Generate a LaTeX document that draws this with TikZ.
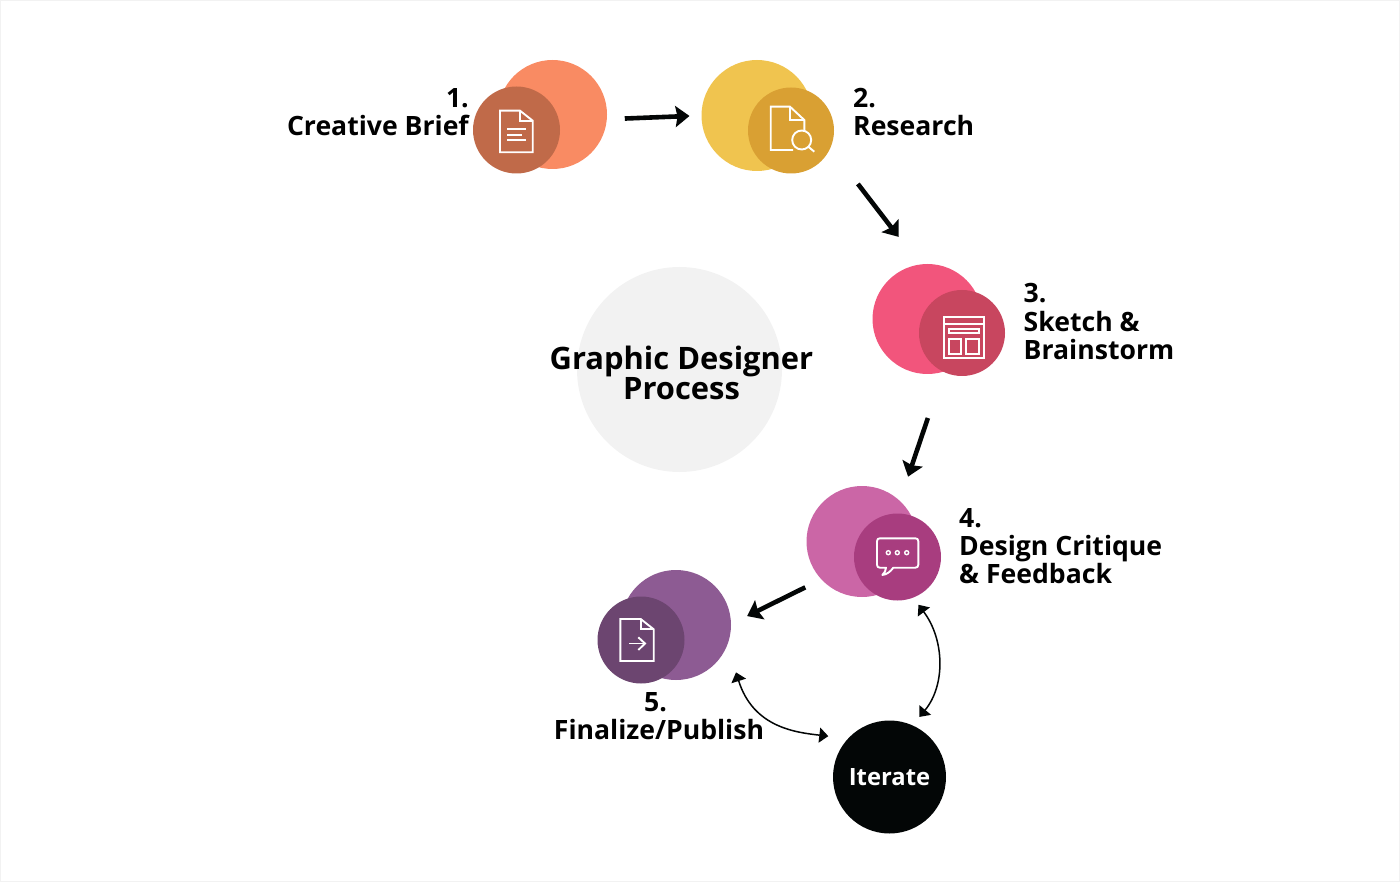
\documentclass[tikz,border=0pt]{standalone}
\usepackage{fontspec}
\setmainfont{Open Sans}
\usetikzlibrary{arrows.meta}
\definecolor{coralA}{HTML}{F98B63}\definecolor{coralB}{HTML}{C06A49}
\definecolor{goldA}{HTML}{F0C44F}\definecolor{goldB}{HTML}{D9A033}
\definecolor{roseA}{HTML}{F2557C}\definecolor{roseB}{HTML}{C8465F}
\definecolor{orchidA}{HTML}{CB66A6}\definecolor{orchidB}{HTML}{A83D7F}
\definecolor{plumA}{HTML}{8D5B93}\definecolor{plumB}{HTML}{6C4570}
\definecolor{inkblack}{HTML}{030606}\definecolor{pale}{HTML}{F2F2F2}
\tikzset{
 bub/.style={circle,inner sep=0pt,outer sep=0pt,minimum size=#1},
 lab/.style={font=\fontsize{26.6}{28}\selectfont\bfseries,inner sep=0pt,text=black},
 heavy/.style={draw=inkblack,line width=4.6pt,-{Stealth[length=14pt,width=21pt,inset=2pt]}},
 fine/.style={draw=inkblack,line width=1.5pt,{Triangle[length=9pt,width=15pt]}-{Triangle[length=9pt,width=15pt]}},
 icon/.style={draw=white,line width=1.9pt,line join=miter}
}
\begin{document}
\begin{tikzpicture}[x=1pt,y=-1pt]
\useasboundingbox (0,0) rectangle (1400,882);
\draw[draw=pale,line width=1.5pt] (0,0) rectangle (1400,882);
% centre
\node[bub=205pt,fill=pale] (hub) at (679.5,369.5) {};
\node[font=\fontsize{30.9}{30.5}\selectfont\bfseries,inner sep=0pt,align=center] (title) at (681.5,373) {Graphic Designer\\Process};
% bubbles
\node[bub=109pt,fill=coralA] (big1) at (552.5,114.5) {};
\node[bub=87pt,fill=coralB] (small1) at (516.5,130) {};
\node[bub=111pt,fill=goldA] (big2) at (757,115.5) {};
\node[bub=86pt,fill=goldB] (small2) at (791,130.5) {};
\node[bub=110pt,fill=roseA] (big3) at (927.5,319) {};
\node[bub=86pt,fill=roseB] (small3) at (962,333) {};
\node[bub=111pt,fill=orchidA] (big4) at (862,541.5) {};
\node[bub=87pt,fill=orchidB] (small4) at (897.5,557) {};
\node[bub=110pt,fill=plumA] (big5) at (676,625) {};
\node[bub=87pt,fill=plumB] (small5) at (641,640) {};
\node[bub=113pt,fill=inkblack,text=white,font=\fontsize{23.8}{26}\selectfont\bfseries] (iter) at (889.5,777) {Iterate};
% labels
\node[lab,align=right,anchor=east] (l1) at (469,112.5) {1.\\Creative Brief};
\node[lab,align=left,anchor=west] (l2) at (853,112) {2.\\Research};
\node[lab,align=left,anchor=west] (l3) at (1023.5,321.5) {3.\\Sketch \&\\Brainstorm};
\node[lab,align=left,anchor=west] (l4) at (959,546.5) {4.\\Design Critique\\\& Feedback};
\node[lab,align=center] (l5) at (659,716) {\mbox{5.\kern 7pt}\\Finalize/Publish};
% connectors
\draw[heavy,shorten <=18pt,shorten >=12pt] (big1.-5.6) -- (big2.180);
\draw[heavy,shorten <=45.3pt,shorten >=34.9pt] (small2.-24.2) -- (big3.98);
\draw[heavy,shorten <=49pt,shorten >=25.6pt] (big3.-73.1) -- (big4.47.3);
\draw[heavy,shorten <=18pt,shorten >=18pt] (big4.-137.5) -- (big5.1);
\draw[fine,shorten <=9pt,shorten >=11pt] (small4.-69) .. controls +(31.5,42) and +(33.2,-40.3) .. (iter.66.3);
\draw[fine,shorten <=29pt,shorten >=20pt] (big5.-21.4) .. controls +(26,83) and +(-52,-6) .. (iter.137.5);
% icon 1
\draw[icon] (500,110.7) -- (520,110.7) -- (532.7,120.7) -- (532.7,152.3) -- (500,152.3) -- cycle;
\draw[icon] (520,110.7) -- (520,120.7) -- (532.7,120.7);
\draw[icon] (507.3,129.3) -- (525.7,129.3) (507.3,134.7) -- (521.7,134.7) (507.3,140) -- (525.7,140);
% icon 2
\draw[icon] (804.3,130) -- (804.3,120) -- (790,106.7) -- (770.7,106.7) -- (770.7,150) -- (793,150);
\draw[icon] (790,106.7) -- (790,120) -- (804.3,120);
\draw[icon] (801.7,140) circle (9.5pt);
\draw[icon] (808.3,146.7) -- (814.3,151.7);
% icon 3
\draw[icon] (944.3,317.3) rectangle (984,358.3);
\draw[icon] (944.3,324) -- (984,324);
\draw[icon] (948.7,329.3) rectangle (979,333.3);
\draw[icon] (948.7,338.7) rectangle (961,354.3);
\draw[icon] (965.7,338.7) rectangle (979,354.3);
% icon 4
\draw[icon,line join=round] (880,538.3) -- (915.3,538.3) .. controls (917.3,538.3) and (918.3,539.3) .. (918.3,541.3) -- (918.3,564.7) .. controls (918.3,566.7) and (917.3,567.7) .. (915.3,567.7) -- (893.3,567.7) .. controls (890.5,571.5) and (887,574.5) .. (882.3,575) .. controls (884.5,573) and (886,570.5) .. (886,567.7) -- (880,567.7) .. controls (878,567.7) and (877,566.7) .. (877,564.7) -- (877,541.3) .. controls (877,539.3) and (878,538.3) .. (880,538.3) -- cycle;
\draw[icon,line width=1.4pt] (888.3,552.7) circle (2pt) (897.3,552.7) circle (2pt) (906.7,552.7) circle (2pt);
% icon 5
\draw[icon] (620.3,619) -- (640.7,619) -- (653.7,629.3) -- (653.7,661) -- (620.3,661) -- cycle;
\draw[icon] (640.7,619) -- (640.7,629.3) -- (653.7,629.3);
\draw[icon] (629.3,643.5) -- (645,643.5);
\draw[icon] (638.3,637.3) -- (645,643.5) -- (638.3,650);
\end{tikzpicture}
\end{document}
